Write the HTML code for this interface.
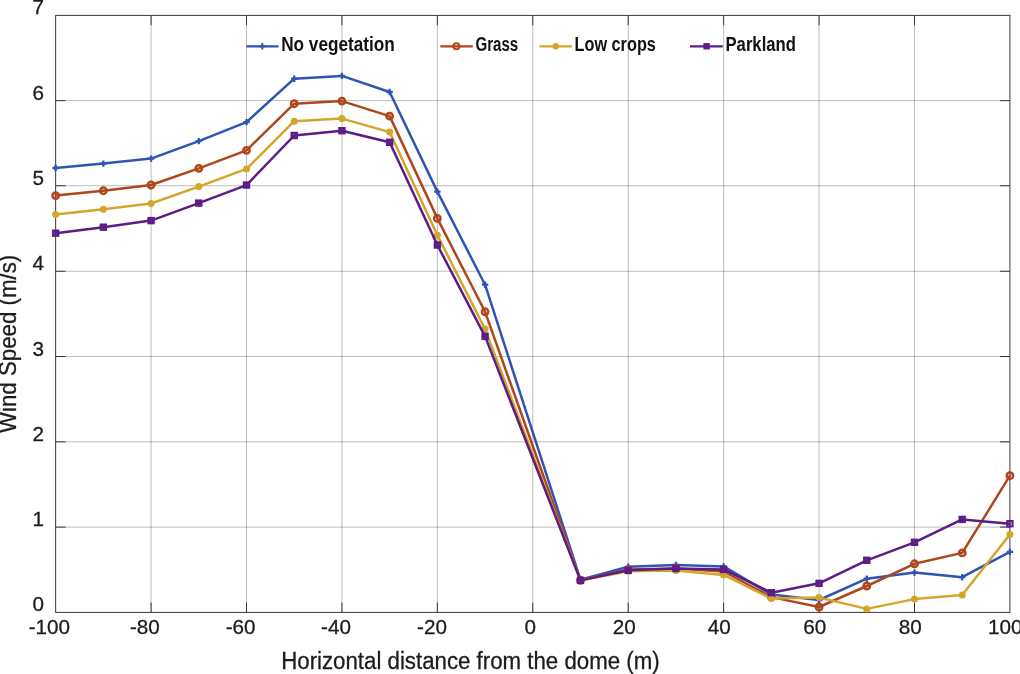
<!DOCTYPE html>
<html lang="en"><head><meta charset="utf-8"><title>Wind speed vs horizontal distance from the dome</title>
<style>
html,body{margin:0;padding:0;background:#fff;}
body{width:1020px;height:674px;overflow:hidden;}
svg{display:block;}
text{font-family:"Liberation Sans",sans-serif;fill:#1c1c1c;stroke:#1c1c1c;stroke-width:0.3px;}
.tk{font-size:21px;}
.lg{font-size:19.5px;font-weight:bold;fill:#111;stroke:none;}
.tt{font-size:23.1px;}
</style></head><body>
<svg width="1020" height="674" viewBox="0 0 1020 674">
<rect x="0" y="0" width="1020" height="674" fill="#ffffff"/>
<g stroke="#262626" stroke-opacity="0.3" stroke-width="1" fill="none">
<line x1="151.08" y1="15.4" x2="151.08" y2="612.4"/>
<line x1="246.5" y1="15.4" x2="246.5" y2="612.4"/>
<line x1="341.93" y1="15.4" x2="341.93" y2="612.4"/>
<line x1="437.36" y1="15.4" x2="437.36" y2="612.4"/>
<line x1="532.78" y1="15.4" x2="532.78" y2="612.4"/>
<line x1="628.21" y1="15.4" x2="628.21" y2="612.4"/>
<line x1="723.64" y1="15.4" x2="723.64" y2="612.4"/>
<line x1="819.07" y1="15.4" x2="819.07" y2="612.4"/>
<line x1="914.49" y1="15.4" x2="914.49" y2="612.4"/>
<line x1="55.65" y1="527.11" x2="1009.92" y2="527.11"/>
<line x1="55.65" y1="441.83" x2="1009.92" y2="441.83"/>
<line x1="55.65" y1="356.54" x2="1009.92" y2="356.54"/>
<line x1="55.65" y1="271.26" x2="1009.92" y2="271.26"/>
<line x1="55.65" y1="185.72" x2="1009.92" y2="185.72"/>
<line x1="55.65" y1="100.6" x2="1009.92" y2="100.6"/>
</g>
<g stroke="#383838" stroke-width="1" fill="none">
<line x1="151.08" y1="612.4" x2="151.08" y2="602.5"/>
<line x1="151.08" y1="15.4" x2="151.08" y2="25.3"/>
<line x1="246.5" y1="612.4" x2="246.5" y2="602.5"/>
<line x1="246.5" y1="15.4" x2="246.5" y2="25.3"/>
<line x1="341.93" y1="612.4" x2="341.93" y2="602.5"/>
<line x1="341.93" y1="15.4" x2="341.93" y2="25.3"/>
<line x1="437.36" y1="612.4" x2="437.36" y2="602.5"/>
<line x1="437.36" y1="15.4" x2="437.36" y2="25.3"/>
<line x1="532.78" y1="612.4" x2="532.78" y2="602.5"/>
<line x1="532.78" y1="15.4" x2="532.78" y2="25.3"/>
<line x1="628.21" y1="612.4" x2="628.21" y2="602.5"/>
<line x1="628.21" y1="15.4" x2="628.21" y2="25.3"/>
<line x1="723.64" y1="612.4" x2="723.64" y2="602.5"/>
<line x1="723.64" y1="15.4" x2="723.64" y2="25.3"/>
<line x1="819.07" y1="612.4" x2="819.07" y2="602.5"/>
<line x1="819.07" y1="15.4" x2="819.07" y2="25.3"/>
<line x1="914.49" y1="612.4" x2="914.49" y2="602.5"/>
<line x1="914.49" y1="15.4" x2="914.49" y2="25.3"/>
<line x1="55.65" y1="527.11" x2="65.55" y2="527.11"/>
<line x1="1009.92" y1="527.11" x2="1000.02" y2="527.11"/>
<line x1="55.65" y1="441.83" x2="65.55" y2="441.83"/>
<line x1="1009.92" y1="441.83" x2="1000.02" y2="441.83"/>
<line x1="55.65" y1="356.54" x2="65.55" y2="356.54"/>
<line x1="1009.92" y1="356.54" x2="1000.02" y2="356.54"/>
<line x1="55.65" y1="271.26" x2="65.55" y2="271.26"/>
<line x1="1009.92" y1="271.26" x2="1000.02" y2="271.26"/>
<line x1="55.65" y1="185.72" x2="65.55" y2="185.72"/>
<line x1="1009.92" y1="185.72" x2="1000.02" y2="185.72"/>
<line x1="55.65" y1="100.6" x2="65.55" y2="100.6"/>
<line x1="1009.92" y1="100.6" x2="1000.02" y2="100.6"/>
</g>
<rect x="55.65" y="15.4" width="954.27" height="597" fill="none" stroke="#383838" stroke-width="1"/>
<g fill="none" stroke-linejoin="round" stroke-linecap="round">
<polyline points="55.65,168 103.36,163.6 151.08,158.6 198.79,141.1 246.5,122.1 294.22,78.7 341.93,75.9 389.64,92 437.36,191.65 485.07,284.7 580.5,579.8 628.21,566.8 675.93,565 723.64,566.4 771.35,594.6 819.07,600 866.78,578.7 914.49,572.6 962.21,577.2 1009.92,551.9" stroke="#2e55b2" stroke-width="2.5"/>
<path d="M52.45 168H58.85M55.65 164.8V171.2" stroke="#2e55b2" stroke-width="2.3" stroke-linecap="butt" fill="none"/>
<path d="M100.16 163.6H106.56M103.36 160.4V166.8" stroke="#2e55b2" stroke-width="2.3" stroke-linecap="butt" fill="none"/>
<path d="M147.88 158.6H154.28M151.08 155.4V161.8" stroke="#2e55b2" stroke-width="2.3" stroke-linecap="butt" fill="none"/>
<path d="M195.59 141.1H201.99M198.79 137.9V144.3" stroke="#2e55b2" stroke-width="2.3" stroke-linecap="butt" fill="none"/>
<path d="M243.3 122.1H249.7M246.5 118.9V125.3" stroke="#2e55b2" stroke-width="2.3" stroke-linecap="butt" fill="none"/>
<path d="M291.02 78.7H297.42M294.22 75.5V81.9" stroke="#2e55b2" stroke-width="2.3" stroke-linecap="butt" fill="none"/>
<path d="M338.73 75.9H345.13M341.93 72.7V79.1" stroke="#2e55b2" stroke-width="2.3" stroke-linecap="butt" fill="none"/>
<path d="M386.44 92H392.84M389.64 88.8V95.2" stroke="#2e55b2" stroke-width="2.3" stroke-linecap="butt" fill="none"/>
<path d="M434.16 191.65H440.56M437.36 188.45V194.85" stroke="#2e55b2" stroke-width="2.3" stroke-linecap="butt" fill="none"/>
<path d="M481.87 284.7H488.27M485.07 281.5V287.9" stroke="#2e55b2" stroke-width="2.3" stroke-linecap="butt" fill="none"/>
<path d="M577.3 579.8H583.7M580.5 576.6V583" stroke="#2e55b2" stroke-width="2.3" stroke-linecap="butt" fill="none"/>
<path d="M625.01 566.8H631.41M628.21 563.6V570" stroke="#2e55b2" stroke-width="2.3" stroke-linecap="butt" fill="none"/>
<path d="M672.73 565H679.13M675.93 561.8V568.2" stroke="#2e55b2" stroke-width="2.3" stroke-linecap="butt" fill="none"/>
<path d="M720.44 566.4H726.84M723.64 563.2V569.6" stroke="#2e55b2" stroke-width="2.3" stroke-linecap="butt" fill="none"/>
<path d="M768.15 594.6H774.55M771.35 591.4V597.8" stroke="#2e55b2" stroke-width="2.3" stroke-linecap="butt" fill="none"/>
<path d="M815.87 600H822.27M819.07 596.8V603.2" stroke="#2e55b2" stroke-width="2.3" stroke-linecap="butt" fill="none"/>
<path d="M863.58 578.7H869.98M866.78 575.5V581.9" stroke="#2e55b2" stroke-width="2.3" stroke-linecap="butt" fill="none"/>
<path d="M911.29 572.6H917.69M914.49 569.4V575.8" stroke="#2e55b2" stroke-width="2.3" stroke-linecap="butt" fill="none"/>
<path d="M959.01 577.2H965.41M962.21 574V580.4" stroke="#2e55b2" stroke-width="2.3" stroke-linecap="butt" fill="none"/>
<path d="M1006.72 551.9H1013.12M1009.92 548.7V555.1" stroke="#2e55b2" stroke-width="2.3" stroke-linecap="butt" fill="none"/>
<polyline points="55.65,195.6 103.36,190.7 151.08,185 198.79,168.4 246.5,150.4 294.22,103.7 341.93,101.1 389.64,116.1 437.36,218.4 485.07,311.8 580.5,580.3 628.21,569.6 675.93,568.4 723.64,571.5 771.35,597.1 819.07,607 866.78,586 914.49,563.8 962.21,552.9 1009.92,475.7" stroke="#b0461d" stroke-width="2.5"/>
<circle cx="55.65" cy="195.6" r="3.2" stroke="#b0461d" stroke-width="2.5" fill="none"/>
<circle cx="103.36" cy="190.7" r="3.2" stroke="#b0461d" stroke-width="2.5" fill="none"/>
<circle cx="151.08" cy="185" r="3.2" stroke="#b0461d" stroke-width="2.5" fill="none"/>
<circle cx="198.79" cy="168.4" r="3.2" stroke="#b0461d" stroke-width="2.5" fill="none"/>
<circle cx="246.5" cy="150.4" r="3.2" stroke="#b0461d" stroke-width="2.5" fill="none"/>
<circle cx="294.22" cy="103.7" r="3.2" stroke="#b0461d" stroke-width="2.5" fill="none"/>
<circle cx="341.93" cy="101.1" r="3.2" stroke="#b0461d" stroke-width="2.5" fill="none"/>
<circle cx="389.64" cy="116.1" r="3.2" stroke="#b0461d" stroke-width="2.5" fill="none"/>
<circle cx="437.36" cy="218.4" r="3.2" stroke="#b0461d" stroke-width="2.5" fill="none"/>
<circle cx="485.07" cy="311.8" r="3.2" stroke="#b0461d" stroke-width="2.5" fill="none"/>
<circle cx="580.5" cy="580.3" r="3.2" stroke="#b0461d" stroke-width="2.5" fill="none"/>
<circle cx="628.21" cy="569.6" r="3.2" stroke="#b0461d" stroke-width="2.5" fill="none"/>
<circle cx="675.93" cy="568.4" r="3.2" stroke="#b0461d" stroke-width="2.5" fill="none"/>
<circle cx="723.64" cy="571.5" r="3.2" stroke="#b0461d" stroke-width="2.5" fill="none"/>
<circle cx="771.35" cy="597.1" r="3.2" stroke="#b0461d" stroke-width="2.5" fill="none"/>
<circle cx="819.07" cy="607" r="3.2" stroke="#b0461d" stroke-width="2.5" fill="none"/>
<circle cx="866.78" cy="586" r="3.2" stroke="#b0461d" stroke-width="2.5" fill="none"/>
<circle cx="914.49" cy="563.8" r="3.2" stroke="#b0461d" stroke-width="2.5" fill="none"/>
<circle cx="962.21" cy="552.9" r="3.2" stroke="#b0461d" stroke-width="2.5" fill="none"/>
<circle cx="1009.92" cy="475.7" r="3.2" stroke="#b0461d" stroke-width="2.5" fill="none"/>
<polyline points="55.65,214.4 103.36,209.2 151.08,203.5 198.79,186.6 246.5,168.9 294.22,121.2 341.93,118.6 389.64,132.1 437.36,235.3 485.07,329.1 580.5,580.6 628.21,571.2 675.93,570.5 723.64,574.9 771.35,598.6 819.07,597.6 866.78,608.9 914.49,599.1 962.21,595.1 1009.92,534.5" stroke="#d3a52a" stroke-width="2.5"/>
<circle cx="55.65" cy="214.4" r="3.5" fill="#d3a52a"/>
<circle cx="103.36" cy="209.2" r="3.5" fill="#d3a52a"/>
<circle cx="151.08" cy="203.5" r="3.5" fill="#d3a52a"/>
<circle cx="198.79" cy="186.6" r="3.5" fill="#d3a52a"/>
<circle cx="246.5" cy="168.9" r="3.5" fill="#d3a52a"/>
<circle cx="294.22" cy="121.2" r="3.5" fill="#d3a52a"/>
<circle cx="341.93" cy="118.6" r="3.5" fill="#d3a52a"/>
<circle cx="389.64" cy="132.1" r="3.5" fill="#d3a52a"/>
<circle cx="437.36" cy="235.3" r="3.5" fill="#d3a52a"/>
<circle cx="485.07" cy="329.1" r="3.5" fill="#d3a52a"/>
<circle cx="580.5" cy="580.6" r="3.5" fill="#d3a52a"/>
<circle cx="628.21" cy="571.2" r="3.5" fill="#d3a52a"/>
<circle cx="675.93" cy="570.5" r="3.5" fill="#d3a52a"/>
<circle cx="723.64" cy="574.9" r="3.5" fill="#d3a52a"/>
<circle cx="771.35" cy="598.6" r="3.5" fill="#d3a52a"/>
<circle cx="819.07" cy="597.6" r="3.5" fill="#d3a52a"/>
<circle cx="866.78" cy="608.9" r="3.5" fill="#d3a52a"/>
<circle cx="914.49" cy="599.1" r="3.5" fill="#d3a52a"/>
<circle cx="962.21" cy="595.1" r="3.5" fill="#d3a52a"/>
<circle cx="1009.92" cy="534.5" r="3.5" fill="#d3a52a"/>
<polyline points="55.65,233.2 103.36,227.2 151.08,220.6 198.79,203.1 246.5,185.05 294.22,135.5 341.93,130.7 389.64,142.3 437.36,245 485.07,336.4 580.5,580.4 628.21,570.3 675.93,568.5 723.64,569.4 771.35,592.7 819.07,583.35 866.78,560.3 914.49,542.3 962.21,519.4 1009.92,523.7" stroke="#5d1b87" stroke-width="2.5"/>
<rect x="53.3" y="230.85" width="4.7" height="4.7" fill="none" stroke="#5d1b87" stroke-width="2.7" stroke-linejoin="miter"/>
<rect x="101.01" y="224.85" width="4.7" height="4.7" fill="none" stroke="#5d1b87" stroke-width="2.7" stroke-linejoin="miter"/>
<rect x="148.73" y="218.25" width="4.7" height="4.7" fill="none" stroke="#5d1b87" stroke-width="2.7" stroke-linejoin="miter"/>
<rect x="196.44" y="200.75" width="4.7" height="4.7" fill="none" stroke="#5d1b87" stroke-width="2.7" stroke-linejoin="miter"/>
<rect x="244.15" y="182.7" width="4.7" height="4.7" fill="none" stroke="#5d1b87" stroke-width="2.7" stroke-linejoin="miter"/>
<rect x="291.87" y="133.15" width="4.7" height="4.7" fill="none" stroke="#5d1b87" stroke-width="2.7" stroke-linejoin="miter"/>
<rect x="339.58" y="128.35" width="4.7" height="4.7" fill="none" stroke="#5d1b87" stroke-width="2.7" stroke-linejoin="miter"/>
<rect x="387.29" y="139.95" width="4.7" height="4.7" fill="none" stroke="#5d1b87" stroke-width="2.7" stroke-linejoin="miter"/>
<rect x="435.01" y="242.65" width="4.7" height="4.7" fill="none" stroke="#5d1b87" stroke-width="2.7" stroke-linejoin="miter"/>
<rect x="482.72" y="334.05" width="4.7" height="4.7" fill="none" stroke="#5d1b87" stroke-width="2.7" stroke-linejoin="miter"/>
<rect x="578.15" y="578.05" width="4.7" height="4.7" fill="none" stroke="#5d1b87" stroke-width="2.7" stroke-linejoin="miter"/>
<rect x="625.86" y="567.95" width="4.7" height="4.7" fill="none" stroke="#5d1b87" stroke-width="2.7" stroke-linejoin="miter"/>
<rect x="673.58" y="566.15" width="4.7" height="4.7" fill="none" stroke="#5d1b87" stroke-width="2.7" stroke-linejoin="miter"/>
<rect x="721.29" y="567.05" width="4.7" height="4.7" fill="none" stroke="#5d1b87" stroke-width="2.7" stroke-linejoin="miter"/>
<rect x="769" y="590.35" width="4.7" height="4.7" fill="none" stroke="#5d1b87" stroke-width="2.7" stroke-linejoin="miter"/>
<rect x="816.72" y="581" width="4.7" height="4.7" fill="none" stroke="#5d1b87" stroke-width="2.7" stroke-linejoin="miter"/>
<rect x="864.43" y="557.95" width="4.7" height="4.7" fill="none" stroke="#5d1b87" stroke-width="2.7" stroke-linejoin="miter"/>
<rect x="912.14" y="539.95" width="4.7" height="4.7" fill="none" stroke="#5d1b87" stroke-width="2.7" stroke-linejoin="miter"/>
<rect x="959.86" y="517.05" width="4.7" height="4.7" fill="none" stroke="#5d1b87" stroke-width="2.7" stroke-linejoin="miter"/>
<rect x="1007.27" y="521.05" width="5.3" height="5.3" fill="none" stroke="#5d1b87" stroke-width="2.1" stroke-linejoin="miter"/>
</g>
<g class="tk" text-anchor="end">
<text transform="translate(43.9 611.4) scale(0.985 1)">0</text>
<text transform="translate(43.9 526.11) scale(0.985 1)">1</text>
<text transform="translate(43.9 440.83) scale(0.985 1)">2</text>
<text transform="translate(43.9 355.54) scale(0.985 1)">3</text>
<text transform="translate(43.9 270.26) scale(0.985 1)">4</text>
<text transform="translate(43.9 184.72) scale(0.985 1)">5</text>
<text transform="translate(43.9 99.6) scale(0.985 1)">6</text>
<text transform="translate(43.9 14.4) scale(0.985 1)">7</text>
</g>
<g class="tk">
<text transform="translate(28.7 634.2) scale(0.985 1)">-100</text>
<text transform="translate(129.9 634.2) scale(0.985 1)">-80</text>
<text transform="translate(225.7 634.2) scale(0.985 1)">-60</text>
<text transform="translate(321 634.2) scale(0.985 1)">-40</text>
<text transform="translate(417 634.2) scale(0.985 1)">-20</text>
<text transform="translate(524.5 634.2) scale(0.985 1)">0</text>
<text transform="translate(612.8 634.2) scale(0.985 1)">20</text>
<text transform="translate(707.7 634.2) scale(0.985 1)">40</text>
<text transform="translate(803.37 634.2) scale(0.985 1)">60</text>
<text transform="translate(898.79 634.2) scale(0.985 1)">80</text>
<text transform="translate(988 634.2) scale(0.985 1)">100</text>
</g>
<text class="tt" x="281.2" y="669.4" textLength="378.4" lengthAdjust="spacingAndGlyphs">Horizontal distance from the dome (m)</text>
<text class="tt" transform="translate(16.1 433.1) rotate(-90)" textLength="178.4" lengthAdjust="spacingAndGlyphs">Wind Speed (m/s)</text>
<line x1="246.3" y1="46.3" x2="278.6" y2="46.3" stroke="#2e55b2" stroke-width="2.3"/>
<path d="M259.1 46.3H265.5M262.3 43.1V49.5" stroke="#2e55b2" stroke-width="2.0" stroke-linecap="butt" fill="none"/>
<text class="lg" x="281.2" y="50.6" textLength="113.6" lengthAdjust="spacingAndGlyphs">No vegetation</text>
<line x1="440.3" y1="46.3" x2="472.8" y2="46.3" stroke="#b0461d" stroke-width="2.3"/>
<circle cx="456.4" cy="46.3" r="3.0" stroke="#b0461d" stroke-width="2.0" fill="none"/>
<text class="lg" x="475.4" y="50.6" textLength="42.8" lengthAdjust="spacingAndGlyphs">Grass</text>
<line x1="539.5" y1="46.3" x2="571.9" y2="46.3" stroke="#d3a52a" stroke-width="2.3"/>
<circle cx="555.7" cy="46.3" r="3.2" fill="#d3a52a"/>
<text class="lg" x="574.5" y="50.6" textLength="81.4" lengthAdjust="spacingAndGlyphs">Low crops</text>
<line x1="690" y1="46.3" x2="722.8" y2="46.3" stroke="#5d1b87" stroke-width="2.3"/>
<rect x="703.4" y="43.1" width="6.4" height="6.4" fill="#5d1b87"/>
<text class="lg" x="725.5" y="50.6" textLength="70.4" lengthAdjust="spacingAndGlyphs">Parkland</text>
</svg>
</body></html>
